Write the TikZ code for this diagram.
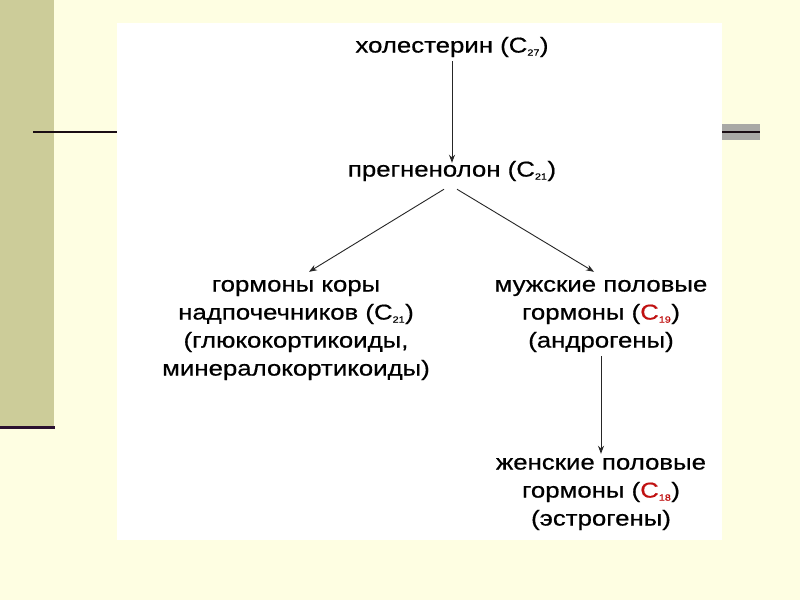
\documentclass[tikz,border=0pt]{standalone}
\usepackage{fontspec}
\setmainfont{Liberation Sans}[FakeStretch=1.2,FakeBold=0.6]
\usetikzlibrary{arrows.meta}
\definecolor{bgyellow}{HTML}{FEFEE2}
\definecolor{band}{HTML}{CCCC99}
\definecolor{darkline}{HTML}{1A0D14}
\definecolor{purpleline}{HTML}{2A1030}
\definecolor{grayrect}{HTML}{A9A9A6}
\definecolor{redc}{HTML}{C01010}
\tikzset{
  lbl/.style={align=center, inner sep=0pt, font=\fontsize{21.5}{28}\selectfont},
  arr/.style={draw=black!85, line width=0.9pt, -{Stealth[length=8pt,width=6pt]}},
}
\newcommand{\csub}[1]{C\textsubscript{\fontsize{9}{9}\selectfont #1}}
\begin{document}
\begin{tikzpicture}[x=1pt,y=-1pt]
\useasboundingbox (0,0) rectangle (800,600);
\fill[bgyellow] (0,0) rectangle (800,600);
\fill[band] (0,0) rectangle (54,427);
\fill[purpleline] (0,425.5) rectangle (55,428.5);
\fill[white] (117,23) rectangle (722,540);
\draw[darkline, line width=2.5pt] (33,132) -- (117,132);
\fill[grayrect] (722,124) rectangle (760,140);
\draw[darkline, line width=2.5pt] (722,132) -- (760,132);

\node[lbl] (chol) at (452,47) {холестерин (\csub{27})};
\node[lbl] (preg) at (452,171) {прегненолон (\csub{21})};
\node[lbl] (adr) at (296,330) {гормоны коры\\надпочечников (\csub{21})\\(глюкокортикоиды,\\минералокортикоиды)};
\node[lbl] (male) at (601,316) {мужские половые\\гормоны ({\color{redc}\csub{19}})\\(андрогены)};
\node[lbl] (fem) at (601,494) {женские половые\\гормоны ({\color{redc}\csub{18}})\\(эстрогены)};

\draw[arr] ([yshift=-4pt]chol.south) -- ([yshift=-2pt]preg.north);
\draw[arr] ([xshift=-8pt,yshift=-8pt]preg.south) -- ([xshift=13pt,yshift=8pt]adr.north);
\draw[arr] ([xshift=5pt,yshift=-8pt]preg.south) -- ([xshift=-7pt,yshift=8pt]male.north);
\draw[arr] ([yshift=-4pt]male.south) -- ([yshift=4pt]fem.north);
\end{tikzpicture}
\end{document}
